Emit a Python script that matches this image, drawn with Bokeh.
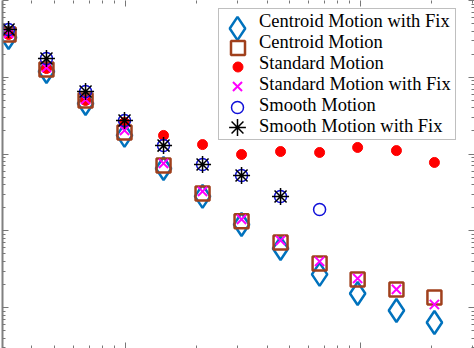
from bokeh.plotting import figure
from bokeh.models import FixedTicker, LogAxis, Legend, LegendItem
from bokeh.embed import file_html
from bokeh.resources import INLINE

# ---- data ----
x_vals = [0.318, 0.461, 0.676, 0.99, 1.451, 2.126, 3.115, 4.564, 6.69, 9.71, 14.2, 20.6]

centroid_fix = [0.330, 0.119, 0.0456, 0.0175, 0.00649, 0.00281, 0.00121,
                0.000590, 0.000271, 0.000153, 0.0000920, 0.0000641]
centroid = [0.361, 0.126, 0.0499, 0.0191, 0.00711, 0.00307, 0.00133,
            0.000706, 0.000376, 0.000233, 0.000173, 0.000136]
standard = [0.361, 0.130, 0.0499, 0.0258, 0.0175, 0.0133, 0.00988,
            0.0108, 0.0105, 0.0122, 0.0111, 0.00778]
standard_fix = [0.372, 0.134, 0.0514, 0.0203, 0.00755, 0.00326, 0.00141,
                0.000750, 0.000400, 0.000240, 0.000173, 0.000110]
smooth = [0.419, 0.176, 0.0653, 0.0274, 0.0129, 0.00732, 0.00526, 0.00281, 0.00190]
smooth_fix = [0.419, 0.176, 0.0653, 0.0274, 0.0129, 0.00732, 0.00526, 0.00281]

labels = ["Centroid Motion with Fix", "Centroid Motion", "Standard Motion",
          "Standard Motion with Fix", "Smooth Motion", "Smooth Motion with Fix"]

x_major = [1, 10]
x_minor = [0.4, 0.5, 0.6, 0.7, 0.8, 0.9, 2, 3, 4, 5, 6, 7, 8, 9, 20, 30]
y_major = [1e-4, 1e-3, 1e-2, 1e-1, 1]
y_minor = [m * d for d in [1e-5, 1e-4, 1e-3, 1e-2, 1e-1] for m in [2, 3, 4, 5, 6, 7, 8, 9]]

# ---- figure ----
W, H = 474, 348
FL = 2  # frame left
p = figure(width=W, height=H, x_axis_type="log", y_axis_type="log",
           x_range=(0.2997, 30.5), y_range=(2.94e-5, 1.0),
           output_backend="svg", toolbar_location=None,
           min_border=0, min_border_left=FL)
p.outline_line_color = None
p.xgrid.visible = False
p.ygrid.visible = False
p.background_fill_color = "white"
p.border_fill_color = "white"

p.add_layout(LogAxis(), "above")
p.add_layout(LogAxis(), "right")

for ax in p.xaxis:
    ax.ticker = FixedTicker(ticks=x_major, minor_ticks=x_minor)
for ax in p.yaxis:
    ax.ticker = FixedTicker(ticks=y_major, minor_ticks=y_minor)

for ax in p.axis:
    ax.major_label_text_font_size = "1px"
    ax.major_label_text_alpha = 0
    ax.major_label_standoff = 0
    ax.major_tick_out = 0
    ax.minor_tick_out = 0
    ax.major_tick_in = 6
    ax.minor_tick_in = 3
    ax.major_tick_line_color = "#777777"
    ax.minor_tick_line_color = "#777777"
    ax.axis_line_color = None

p.yaxis[0].axis_line_color = "#808080"
p.yaxis[0].axis_line_width = 2

styles = [
    dict(marker="diamond", size=23, fill_color=None, line_color="#0072BD", line_width=2.5),
    dict(marker="square", size=14, fill_color=None, line_color="#A0401C", line_width=2.5),
    dict(marker="circle", size=10, fill_color="#FF0000", line_color="#FF0000", line_width=1),
    dict(marker="x", size=13, line_color="#FF00FF", line_width=2),
    dict(marker="circle", size=12, fill_color=None, line_color="#1010D8", line_width=1.5),
    dict(marker="asterisk", size=17, line_color="#000000", line_width=1.5),
]
series = [centroid_fix, centroid, standard, standard_fix, smooth, smooth_fix]

renderers = []
for ys, st in zip(series, styles):
    renderers.append(p.scatter(x_vals[:len(ys)], ys, **st))

# legend box with labels (glyphs drawn by the per-marker legends below)
dummy = p.scatter([], [], marker="circle", size=1, fill_alpha=0, line_alpha=0)
box = Legend(items=[LegendItem(label=l, renderers=[dummy]) for l in labels],
             location=(218 - FL, H - 140), margin=0, padding=2, spacing=-2,
             glyph_width=34, glyph_height=20, label_height=20, label_width=194,
             label_standoff=4,
             label_text_font="Liberation Serif", label_text_font_size="18.5px",
             label_text_color="black",
             border_line_color="#7f7f7f", border_line_width=1.5,
             background_fill_color="white", background_fill_alpha=1)
p.add_layout(box)

# legend markers at full size (Bokeh draws a legend marker at 0.4 x glyph box)
row_y = [28, 47, 66, 86, 107, 127]
gx = 237
for r, st, cy in zip(renderers, styles, row_y):
    g = int(round(st["size"] / 0.4))
    lg = Legend(items=[LegendItem(label=" ", renderers=[r])],
                location=(gx - FL - g / 2, H - cy - g / 2), margin=0, padding=0,
                spacing=0, glyph_width=g, glyph_height=g,
                label_height=0, label_width=0, label_standoff=0,
                label_text_font_size="1px", label_text_alpha=0,
                border_line_color=None, background_fill_alpha=0)
    p.add_layout(lg)

open("out.html", "w").write(file_html(p, INLINE))
